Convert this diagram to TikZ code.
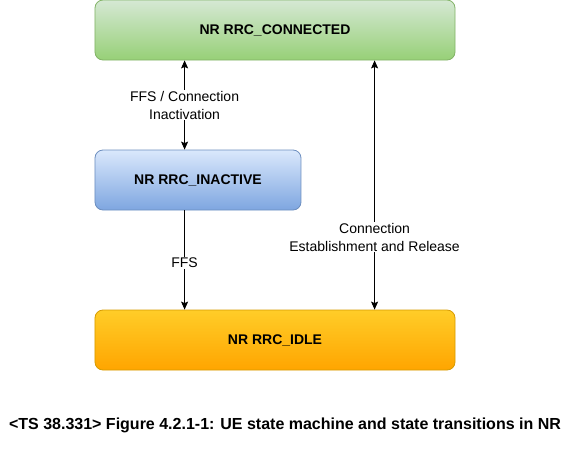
\documentclass[tikz,border=0pt]{standalone}
\usepackage{fontspec}
\setmainfont{Liberation Sans}
\usepackage{tikz}
\usepackage{xcolor}
\usetikzlibrary{shapes,arrows,arrows.meta}
\definecolor{greenTop}{HTML}{D5E8D4}
\definecolor{greenBot}{HTML}{97D077}
\definecolor{greenLine}{HTML}{82B366}
\definecolor{blueTop}{HTML}{DAE8FC}
\definecolor{blueBot}{HTML}{7EA6E0}
\definecolor{blueLine}{HTML}{6C8EBF}
\definecolor{orangeTop}{HTML}{FFCD28}
\definecolor{orangeBot}{HTML}{FFA500}
\definecolor{orangeLine}{HTML}{D79B00}
\tikzstyle{state} = [rectangle, draw, rounded corners=8pt, minimum width=360pt,
minimum height=60pt, font=\fontsize{14}{17}\selectfont\bfseries, line width=0.8pt]
\tikzstyle{line} = [draw, line width=0.9pt, -{Stealth[length=8pt,width=7pt,inset=1.5pt]}]
\tikzstyle{both} = [{Stealth[length=8pt,width=7pt,inset=1.5pt]}-{Stealth[length=8pt,width=7pt,inset=1.5pt]}]
\tikzstyle{label} = [fill=white, align=center, inner sep=1pt,
font=\fontsize{14}{18}\selectfont]

\begin{document}
\begin{tikzpicture}[node distance = 150pt]
        \useasboundingbox (-275pt,30pt) rectangle (296pt,-421pt);
        \node [state, draw=greenLine, top color=greenTop, bottom color=greenBot] (conn) {NR RRC\_CONNECTED};
        \node [state, draw=blueLine, top color=blueTop, bottom color=blueBot, minimum width=206pt,
               below of=conn, xshift=-77pt] (inact) {NR RRC\_INACTIVE};
        \node [state, draw=orangeLine, top color=orangeTop, bottom color=orangeBot,
               below of=conn, node distance=310pt] (idle) {NR RRC\_IDLE};
        \node [below of=idle, node distance=85pt, xshift=10pt,
               font=\fontsize{16}{19}\selectfont\bfseries] (caption)
               {<TS 38.331> Figure 4.2.1-1: UE state machine and state transitions in NR};

        \path [line, both] ([xshift=90pt]conn.south west) -- node [label, pos=0.5] {FFS / Connection\\Inactivation} ([xshift=90pt]inact.north west);
        \path [line] ([xshift=90pt]inact.south west) -- node [label, pos=0.53] {FFS} ([xshift=90pt]idle.north west);
        \path [line, both] ([xshift=280pt]conn.south west) -- node [label, pos=0.71] {Connection\\Establishment and Release} ([xshift=280pt]idle.north west);
      \end{tikzpicture}
\end{document}
